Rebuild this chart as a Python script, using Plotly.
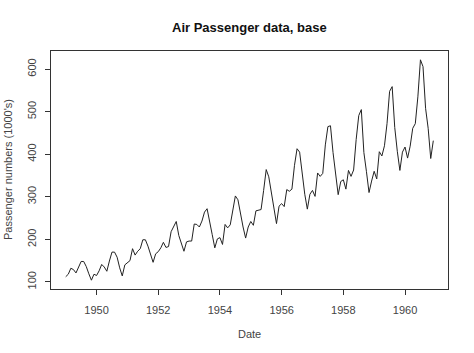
import plotly.graph_objects as go

years = list(range(1949, 1961))
passengers = [
    112, 118, 132, 129, 121, 135, 148, 148, 136, 119, 104, 118,
    115, 126, 141, 135, 125, 149, 170, 170, 158, 133, 114, 140,
    145, 150, 178, 163, 172, 178, 199, 199, 184, 162, 146, 166,
    171, 180, 193, 181, 183, 218, 230, 242, 209, 191, 172, 194,
    196, 196, 236, 235, 229, 243, 264, 272, 237, 211, 180, 201,
    204, 188, 235, 227, 234, 264, 302, 293, 259, 229, 203, 229,
    242, 233, 267, 269, 270, 315, 364, 347, 312, 274, 237, 278,
    284, 277, 317, 313, 318, 374, 413, 405, 355, 306, 271, 306,
    315, 301, 356, 348, 355, 422, 465, 467, 404, 347, 305, 336,
    340, 318, 362, 348, 363, 435, 491, 505, 404, 359, 310, 337,
    360, 342, 406, 396, 420, 472, 548, 559, 463, 407, 362, 405,
    417, 391, 419, 461, 472, 535, 622, 606, 508, 461, 390, 432,
]
dates = [y + m / 12 for y in years for m in range(12)]
x_ticks = [1950, 1952, 1954, 1956, 1958, 1960]
y_ticks = [100, 200, 300, 400, 500, 600]

FONT = "Liberation Sans, Arial, sans-serif"

xmin, xmax = dates[0], dates[-1]
xpad = (xmax - xmin) * 0.04
ymin, ymax = min(passengers), max(passengers)
ypad = (ymax - ymin) * 0.04

fig = go.Figure(go.Scatter(x=dates, y=passengers, mode="lines",
                           line=dict(color="#222222", width=1)))

fig.update_layout(
    width=474, height=353,
    margin=dict(l=51, r=26, t=51, b=64),
    paper_bgcolor="white", plot_bgcolor="white",
    showlegend=False,
    font=dict(family=FONT, size=11, color="#333333"),
)
fig.update_xaxes(
    range=[xmin - xpad, xmax + xpad], tickvals=x_ticks,
    ticks="outside", ticklen=5, tickcolor="#333333",
    showline=True, linecolor="#333333", linewidth=1, mirror=True,
    showgrid=False, zeroline=False, ticklabelstandoff=6,
    tickfont=dict(size=11, color="#444444"),
)
fig.update_yaxes(
    range=[ymin - ypad, ymax + ypad], tickvals=y_ticks,
    ticks="outside", ticklen=5, tickcolor="#333333", tickangle=-90,
    showline=True, linecolor="#333333", linewidth=1, mirror=True,
    showgrid=False, zeroline=False, ticklabelstandoff=5,
    tickfont=dict(size=11, color="#444444"),
)
fig.add_annotation(text="<b>Air Passenger data, base</b>", xref="paper", yref="paper",
                   x=0.5, y=1, yshift=24, showarrow=False, yanchor="middle",
                   font=dict(size=13, color="#111111", family=FONT))
fig.add_annotation(text="Date", xref="paper", yref="paper",
                   x=0.5, y=0, yshift=-45, showarrow=False, yanchor="middle",
                   font=dict(size=11, color="#444444", family=FONT))
fig.add_annotation(text="Passenger numbers (1000's)", xref="paper", yref="paper",
                   x=0, y=0.5, xshift=-43, showarrow=False, xanchor="center",
                   textangle=-90, font=dict(size=11, color="#444444", family=FONT))

fig.write_html("out.html")
